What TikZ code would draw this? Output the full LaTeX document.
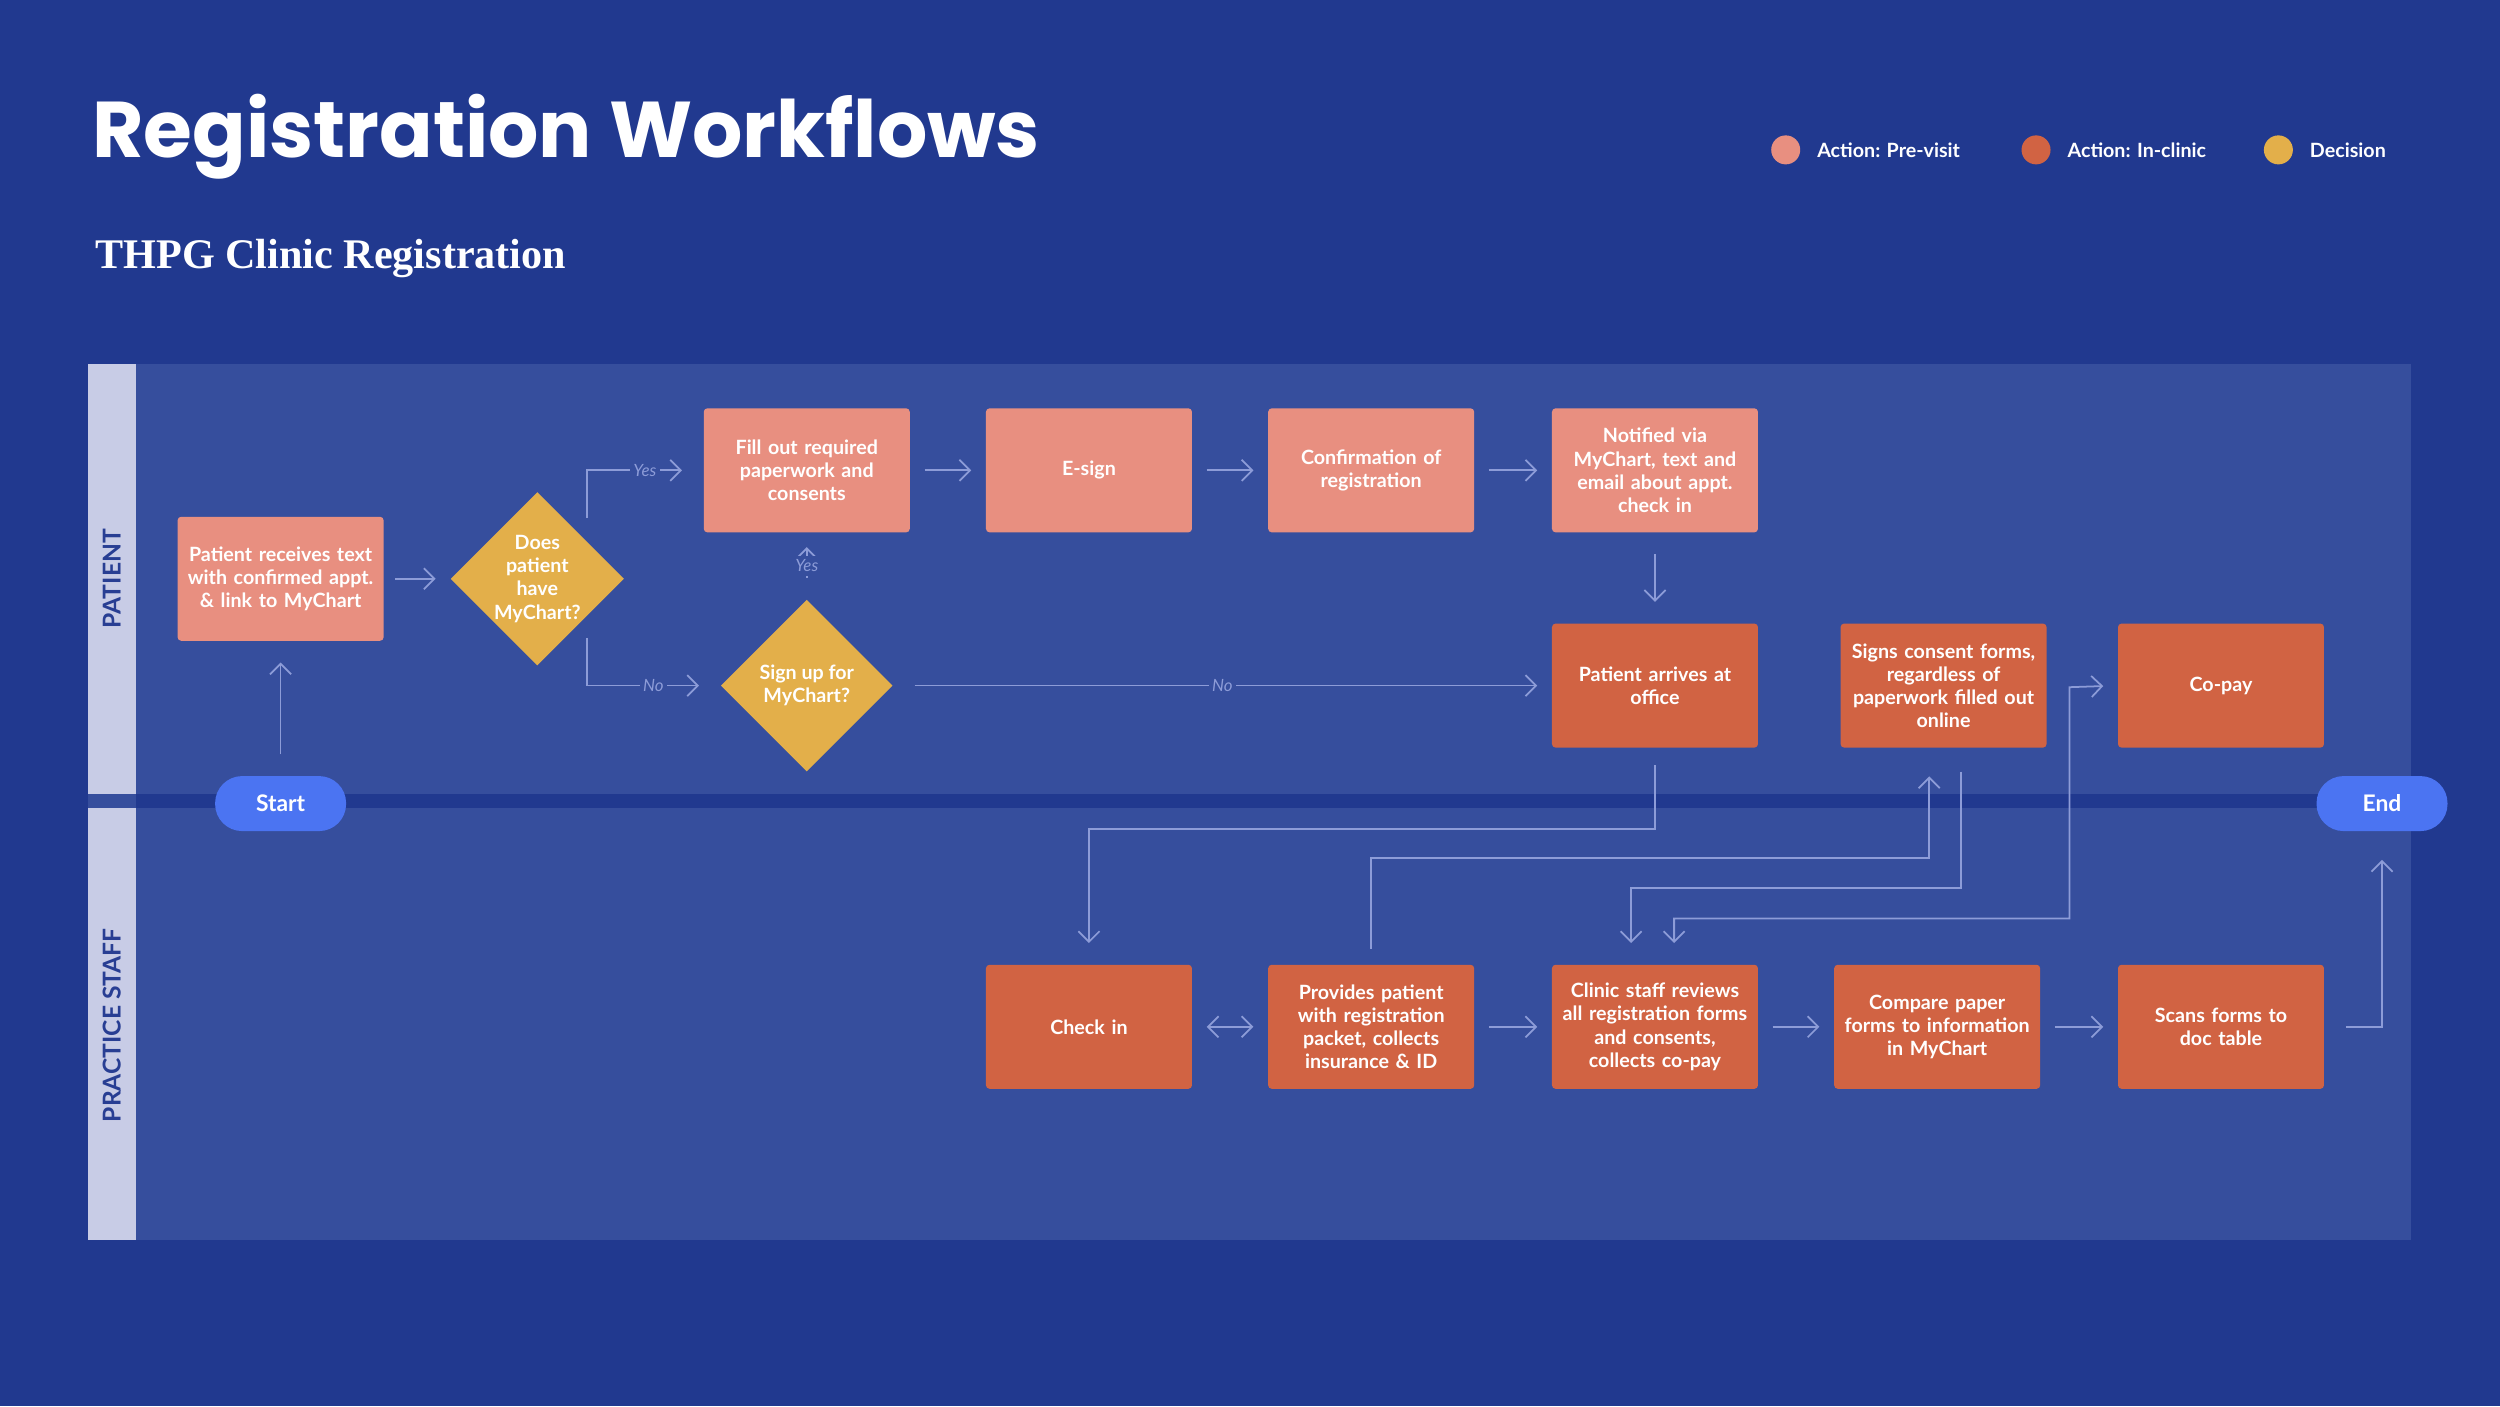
\documentclass[tikz,border=0pt]{standalone}
\usepackage{fontspec}
\setmainfont{Lato}
\newfontfamily\titlefont{Poppins}
\newfontfamily\subfont{Liberation Serif}
\usetikzlibrary{shapes.geometric,arrows.meta}
\definecolor{bgblue}{HTML}{21398F}
\definecolor{lanebg}{HTML}{364E9D}
\definecolor{laneside}{HTML}{C8CCE6}
\definecolor{lanetext}{HTML}{283E93}
\definecolor{previsit}{HTML}{E88F80}
\definecolor{inclinic}{HTML}{D16343}
\definecolor{decision}{HTML}{E3AF4A}
\definecolor{startblue}{HTML}{4B74F2}
\definecolor{linkcol}{HTML}{8D9CD8}
\begin{document}
\begin{tikzpicture}[x=0.015944cm,y=-0.015944cm,
	box/.style={rectangle, rounded corners=1pt, inner sep=1pt, minimum width=2.06cm, minimum height=1.24cm, text width=1.95cm, align=center, text=white, font=\fontsize{5.6}{6.6}\selectfont\bfseries},
	pre/.style={box, fill=previsit},
	clinic/.style={box, fill=inclinic},
	choice/.style={diamond, aspect=1, fill=decision, inner sep=0pt, minimum size=1.72cm, align=center, text=white, font=\fontsize{5.6}{6.6}\selectfont\bfseries},
	pill/.style={rectangle, rounded corners=0.27cm, fill=startblue, minimum width=1.31cm, minimum height=0.55cm, text=white, font=\fontsize{6.5}{7}\selectfont\bfseries},
	link/.style={draw=linkcol, line width=0.5pt, -{Straight Barb[length=3pt,width=6pt]}},
	both/.style={link, {Straight Barb[length=3pt,width=6pt]}-{Straight Barb[length=3pt,width=6pt]}},
	tag/.style={fill=lanebg, text=linkcol, inner sep=1pt, font=\fontsize{4.8}{5}\selectfont\itshape},
	key/.style={circle, minimum size=0.29cm, inner sep=0pt},
	keytext/.style={anchor=west, text=white, font=\fontsize{5.6}{6.6}\selectfont\bfseries},
	>=stealth]

	%Background
	\fill[bgblue] (0,0) rectangle (1568,882);
	\fill[lanebg] (55,228) rectangle (1512,778);
	\fill[bgblue] (85,498) rectangle (1512,507);
	\fill[laneside] (55,228) rectangle (85,498);
	\fill[laneside] (55,507) rectangle (85,778);
	\node[rotate=90, text=lanetext, font=\fontsize{7}{8}\selectfont\bfseries] (lanepat) at (70,363) {PATIENT};
	\node[rotate=90, text=lanetext, font=\fontsize{7}{8}\selectfont\bfseries] (lanestaff) at (70,643) {PRACTICE STAFF};

	%Titles
	\node[anchor=west, text=white, font=\titlefont\fontsize{22.5}{26}\selectfont\bfseries] (title) at (50,86) {Registration Workflows};
	\node[anchor=west, text=white, font=\subfont\fontsize{12}{14}\selectfont\bfseries] (subtitle) at (52,162) {THPG Clinic Registration};

	%Legend
	\node[key, fill=previsit] (k1) at (1120,94) {};
	\node[keytext] at (1132,94) {Action: Pre-visit};
	\node[key, fill=inclinic] (k2) at (1277,94) {};
	\node[keytext] at (1289,94) {Action: In-clinic};
	\node[key, fill=decision] (k3) at (1429,94) {};
	\node[keytext] at (1441,94) {Decision};

	%Nodes
	\node[pre]	(receive)	at (176,363)	{Patient receives text\\with confirmed appt.\\\& link to MyChart};
	\node[choice]	(have)	at (337,363)	{Does\\patient\\have\\MyChart?};
	\node[pre]	(fill)	at (506,295)	{Fill out required\\paperwork and\\consents};
	\node[pre]	(esign)	at (683,295)	{E-sign};
	\node[pre]	(confirm)	at (860,295)	{Confirmation of\\registration};
	\node[pre]	(notified)	at (1038,295)	{Notified via\\MyChart, text and\\email about appt.\\check in};
	\node[choice]	(signup)	at (506,430)	{Sign up for\\MyChart?};
	\node[clinic]	(arrive)	at (1038,430)	{Patient arrives at\\office};
	\node[clinic]	(signs)	at (1219,430)	{Signs consent forms,\\regardless of\\paperwork filled out\\online};
	\node[clinic]	(copay)	at (1393,430)	{Co-pay};
	\node[clinic]	(checkin)	at (683,644)	{Check in};
	\node[clinic]	(provides)	at (860,644)	{Provides patient\\with registration\\packet, collects\\insurance \& ID};
	\node[clinic]	(reviews)	at (1038,644)	{Clinic staff reviews\\all registration forms\\and consents,\\collects co-pay};
	\node[clinic]	(compare)	at (1215,644)	{Compare paper\\forms to information\\in MyChart};
	\node[clinic]	(scans)	at (1393,644)	{Scans forms to\\doc table};
	\node[pill]	(start)	at (176,504)	{Start};
	\node[pill]	(end)	at (1494,504)	{End};

	%Lines
	\draw[link, shorten <=6pt, shorten >=6pt] (start) -- (receive);
	\draw[link, shorten <=3pt, shorten >=4pt] (receive) -- (have);
	\draw[link, shorten >=6pt] (368,325) |- node[tag, pos=0.75] {Yes} (fill.west);
	\draw[link, shorten >=6pt] (368,400) |- node[tag, pos=0.75] {No} (signup.west);
	\draw[link, shorten <=6pt, shorten >=4pt] (signup) -- node[tag] {Yes} (fill);
	\draw[link, shorten <=4pt, shorten >=4pt] (fill) -- (esign);
	\draw[link, shorten <=4pt, shorten >=4pt] (esign) -- (confirm);
	\draw[link, shorten <=4pt, shorten >=4pt] (confirm) -- (notified);
	\draw[link, shorten <=6pt, shorten >=6pt] (notified) -- (arrive);
	\draw[link, shorten <=6pt, shorten >=4pt] (signup) -- node[tag] {No} (arrive);
	\draw[link, shorten >=6pt] (1038,480) -- (1038,520) -| (checkin.north);
	\draw[both, shorten <=4pt, shorten >=4pt] (checkin) -- (provides);
	\draw[link, shorten >=8pt] (860,595) -- (860,538) -| (signs.south -| 1210,0);
	\draw[link, shorten >=6pt] (1230,484) -- (1230,557) -| (reviews.north -| 1023,0);
	\draw[both, shorten <=6pt, shorten >=4pt] (reviews.north -| 1050,0) -- (1050,576) -| (1298,431) -- (copay.west);
	\draw[link, shorten <=4pt, shorten >=4pt] (provides) -- (reviews);
	\draw[link, shorten <=4pt, shorten >=4pt] (reviews) -- (compare);
	\draw[link, shorten <=4pt, shorten >=4pt] (compare) -- (scans);
	\draw[link, shorten <=6pt, shorten >=8pt] (scans.east) -| (end.south);
\end{tikzpicture}
\end{document}
